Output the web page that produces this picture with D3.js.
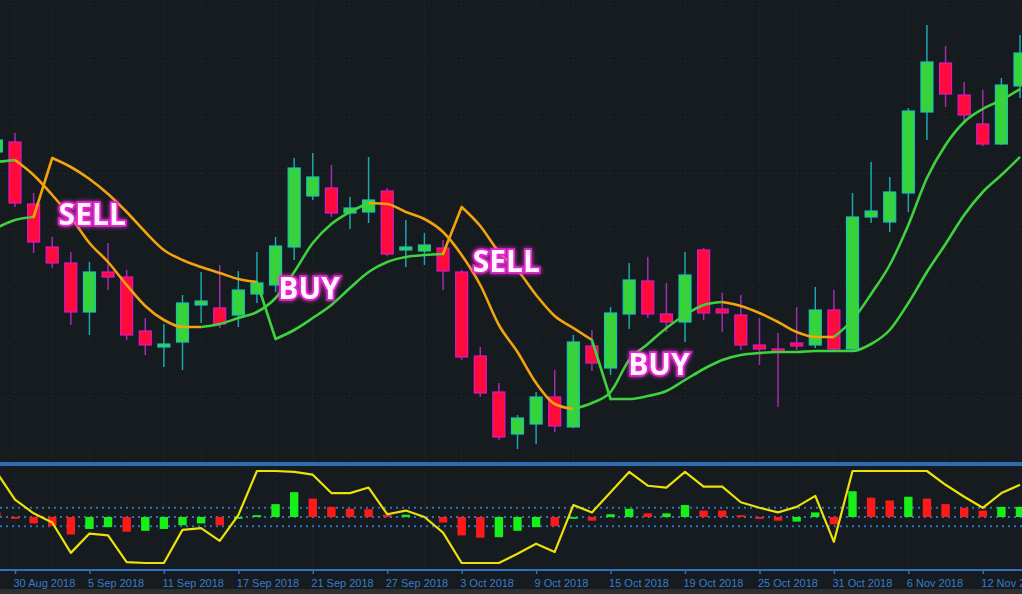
<!DOCTYPE html>
<html>
<head>
<meta charset="utf-8">
<script src="https://cdn.jsdelivr.net/npm/d3@7"></script>
<style>
  body { margin: 0; background: #151b1e; overflow: hidden; }
</style>
</head>
<body>
<div id="chart"></div>
<script>
// candle data (index 0 = 29 Aug 2018, one per trading day)
var open  = [308,318,256,213,197,148,188,183,129,113,118,155,152,145,166,175,213,264,272,247,248,269,210,209,212,188,104,68,26,36,63,33,114,92,146,179,146,138,210,151,145,115,111,117,115,150,111,243,238,267,348,397,365,336,316,374];
var high  = [324,327,267,223,208,198,217,190,142,136,165,188,195,189,208,223,302,307,295,263,303,272,240,227,220,190,113,77,45,68,90,125,130,153,197,203,177,208,212,167,165,142,127,153,173,170,267,298,283,352,435,414,378,370,382,425];
var low   = [304,253,207,192,135,125,170,120,105,93,90,137,132,133,157,168,200,260,243,231,237,204,193,195,170,100,63,20,11,16,28,32,89,85,131,142,128,118,140,128,110,95,53,110,112,110,108,237,228,248,320,353,338,314,315,362];
var close = [320,257,218,197,148,188,183,125,115,116,157,159,136,170,177,214,292,283,247,252,260,206,213,215,189,103,67,23,42,63,34,118,97,147,180,146,138,185,147,147,115,111,108,114,150,111,243,249,268,349,398,366,345,316,375,407];

// moving averages and their trend (1 = up / green, 0 = down / orange)
var maFast = [298,300,285,265,243,217,198,175,154,140,133,133,136,142,148,162,188,217,236,248,257,256,248,241,228,205,175,135,108,77,56,51,57,68,100,116,132,145,155,158,154,147,138,128,123,123,140,166,195,235,282,315,338,351,360,371];
var fastUp = [1,1,0,0,0,0,0,0,0,0,0,0,1,1,1,1,1,1,1,1,1,0,0,0,0,0,0,0,0,0,0,0,1,1,1,1,1,1,1,1,0,0,0,0,0,0,1,1,1,1,1,1,1,1,1,1];
var maSlow = [232,240,243,302,293,281,266,248,228,210,200,193,187,181,178,121,130,142,155,172,188,198,203,205,206,253,234,208,190,165,144,132,120,61,61,64,69,80,91,100,105,107,108,108,109,109,109,116,130,157,188,216,245,268,285,303];
var slowUp = [1,1,1,0,0,0,0,0,0,0,0,0,0,0,0,1,1,1,1,1,1,1,1,1,1,0,0,0,0,0,0,0,0,1,1,1,1,1,1,1,1,1,1,1,1,1,1,1,1,1,1,1,1,1,1,1];

// lower panel: oscillator (0-100) and histogram
var osc = [99,69,54,44,11,32,30,1,0,0,36,38,24,52,100,100,99,96,76,76,82,53,57,50,33,0,0,0,10,21,12,63,55,77,99,84,82,99,83,83,66,60,55,61,73,23,100,100,100,100,100,85,72,60,76,85];
var hist = [5,-2,-7,-10,-19,-13,-11,-16,-15,-13,-9,-7,-9,-2,2,14,27,20,11,9,8.5,2.5,2.5,0,-6,-20,-22.5,-22,-15,-11,-10,-2,-4,3,9,4,4,13,7,7,2,-2,-4,-5,5,-8,28,21,18,22,20,14,10,7,11,11];
var histUp = [0,0,0,0,0,1,1,0,1,1,1,1,0,1,1,1,1,0,0,0,0,0,1,0,0,0,0,1,1,1,0,1,0,1,1,0,1,1,0,0,0,0,0,1,1,0,1,0,0,1,0,0,0,0,1,1];

// signal labels
var signalText  = ["SELL", "BUY", "SELL", "BUY"];
var signalIdx   = [5.15, 16.8, 27.4, 35.6];
var signalLevel = [235, 161, 188, 85];

// x axis labels
var tickLabels = ["30 Aug 2018","5 Sep 2018","11 Sep 2018","17 Sep 2018","21 Sep 2018","27 Sep 2018","3 Oct 2018","9 Oct 2018","15 Oct 2018","19 Oct 2018","25 Oct 2018","31 Oct 2018","6 Nov 2018","12 Nov 2018"];
var tickIdx = [1,5,9,13,17,21,25,29,33,37,41,45,49,53];

var svgWidth = 1022;
var svgHeight = 594;
var mainBottom = 460;

var svg = d3.select("#chart")
  .append("svg")
  .attr("width", svgWidth)
  .attr("height", svgHeight);

var defs = svg.append("defs");
defs.append("clipPath").attr("id", "mainClip")
  .append("rect").attr("x", 0).attr("y", 0).attr("width", svgWidth).attr("height", mainBottom);

var glow = defs.append("filter").attr("id", "glow")
  .attr("x", "-20%").attr("y", "-30%").attr("width", "140%").attr("height", "160%");
glow.append("feGaussianBlur").attr("in", "SourceAlpha").attr("stdDeviation", 2).attr("result", "b");
glow.append("feFlood").attr("flood-color", "#ff30e0").attr("flood-opacity", 0.9);
glow.append("feComposite").attr("in2", "b").attr("operator", "in").attr("result", "g");
var merge = glow.append("feMerge");
merge.append("feMergeNode").attr("in", "g");
merge.append("feMergeNode").attr("in", "SourceGraphic");

svg.append("rect")
  .attr("width", svgWidth).attr("height", svgHeight)
  .attr("fill", "#151b1e");

// scales
var x = d3.scaleLinear().domain([1, 55]).range([15, 1020]);
var yPrice = d3.scaleLinear().domain([0, 460]).range([mainBottom, 0]);
var yOsc = d3.scaleLinear().domain([0, 100]).range([563, 471]);
var yHist = d3.scaleLinear().domain([-50, 50]).range([563, 471]);

// grid
var grid = svg.append("g");
d3.range(1, 56, 2).forEach(function(k) {
  grid.append("line")
    .attr("x1", x(k)).attr("x2", x(k))
    .attr("y1", 0).attr("y2", 568)
    .attr("stroke", "#262e32").attr("stroke-width", 1)
    .attr("stroke-dasharray", "1,3");
});
d3.range(4, mainBottom, 56.5).forEach(function(gy) {
  grid.append("line")
    .attr("x1", 0).attr("x2", svgWidth)
    .attr("y1", gy).attr("y2", gy)
    .attr("stroke", "#262e32").attr("stroke-width", 1)
    .attr("stroke-dasharray", "1,3");
});

var chartGroup = svg.append("g").attr("clip-path", "url(#mainClip)");

// candles
var idx = d3.range(open.length);
var candles = chartGroup.selectAll(".candle")
  .data(idx)
  .enter()
  .append("g");

candles.append("line")
  .attr("x1", function(i) { return x(i); })
  .attr("x2", function(i) { return x(i); })
  .attr("y1", function(i) { return yPrice(high[i]); })
  .attr("y2", function(i) { return yPrice(low[i]); })
  .attr("stroke", function(i) { return close[i] >= open[i] ? "#1aa7ae" : "#a62bb0"; })
  .attr("stroke-width", 1.5);

candles.append("rect")
  .attr("x", function(i) { return x(i) - 6; })
  .attr("width", 12)
  .attr("y", function(i) { return yPrice(Math.max(open[i], close[i])); })
  .attr("height", function(i) { return Math.max(2, Math.abs(yPrice(open[i]) - yPrice(close[i]))); })
  .attr("fill", function(i) { return close[i] >= open[i] ? "#36d43a" : "#ff0a3a"; })
  .attr("stroke", function(i) { return close[i] >= open[i] ? "#1cc0b8" : "#e018c4"; })
  .attr("stroke-width", 1.2);

// trend lines, split into coloured runs
// sharp = the line jumps across price when the trend flips
function drawTrend(values, up, sharp) {
  var line = d3.line()
    .x(function(i) { return x(i); })
    .y(function(i) { return yPrice(values[i]); })
    .curve(d3.curveMonotoneX);
  var straight = d3.line()
    .x(function(i) { return x(i); })
    .y(function(i) { return yPrice(values[i]); });
  var start = 1;
  for (var i = 2; i <= values.length; i++) {
    if (i === values.length || up[i] !== up[start]) {
      var color = up[start] ? "#3ed23e" : "#f2a30e";
      var from = start - 1;
      if (sharp && start > 1) {
        chartGroup.append("path")
          .datum([start - 1, start])
          .attr("d", straight)
          .attr("fill", "none")
          .attr("stroke", color)
          .attr("stroke-width", 2.6)
          .attr("stroke-linecap", "round");
        from = start;
      }
      chartGroup.append("path")
        .datum(d3.range(from, i))
        .attr("d", line)
        .attr("fill", "none")
        .attr("stroke", color)
        .attr("stroke-width", 2.6)
        .attr("stroke-linejoin", "round");
      start = i;
    }
  }
}
drawTrend(maSlow, slowUp, true);
drawTrend(maFast, fastUp, false);

// signal labels
signalText.forEach(function(t, i) {
  svg.append("text")
    .attr("x", x(signalIdx[i]))
    .attr("y", yPrice(signalLevel[i]))
    .attr("text-anchor", "middle")
    .attr("font-family", "'Open Sans', sans-serif")
    .attr("font-weight", 700)
    .attr("font-size", "30px")
    .attr("fill", "#fff4ff")
    .attr("stroke", "#e428d2")
    .attr("stroke-width", 3.5)
    .attr("paint-order", "stroke")
    .attr("filter", "url(#glow)")
    .text(t);
});

// separator between panels
svg.append("line")
  .attr("x1", 0).attr("x2", svgWidth)
  .attr("y1", 464).attr("y2", 464)
  .attr("stroke", "#2e6cb4").attr("stroke-width", 4);

// lower panel level lines
[40, 50, 60].forEach(function(lv) {
  svg.append("line")
    .attr("x1", 0).attr("x2", svgWidth)
    .attr("y1", yOsc(lv)).attr("y2", yOsc(lv))
    .attr("stroke", "#2a72c4").attr("stroke-width", 2)
    .attr("stroke-dasharray", "2,4");
});

// histogram
svg.selectAll(".hbar")
  .data(idx)
  .enter()
  .append("rect")
  .attr("x", function(i) { return x(i) - 4.2; })
  .attr("width", 8.4)
  .attr("y", function(i) { return yHist(Math.max(0, hist[i])); })
  .attr("height", function(i) { return Math.abs(yHist(hist[i]) - yHist(0)); })
  .attr("fill", function(i) { return histUp[i] ? "#18ee18" : "#ff1a1a"; });

// oscillator line
var oscLine = d3.line()
  .x(function(d, i) { return x(i); })
  .y(function(d) { return yOsc(d); });
svg.append("path")
  .datum(osc)
  .attr("d", oscLine)
  .attr("fill", "none")
  .attr("stroke", "#ece10a")
  .attr("stroke-width", 2.2)
  .attr("stroke-linejoin", "round");

// x axis
svg.append("line")
  .attr("x1", 0).attr("x2", svgWidth)
  .attr("y1", 570).attr("y2", 570)
  .attr("stroke", "#2f70c0").attr("stroke-width", 2);

var xAxis = d3.axisBottom(x)
  .tickValues(tickIdx)
  .tickFormat(function(d, i) { return tickLabels[i]; })
  .tickSize(4)
  .tickPadding(5);

var axisG = svg.append("g")
  .attr("transform", "translate(0,570)")
  .call(xAxis);
axisG.select(".domain").remove();
axisG.selectAll(".tick line").attr("stroke", "#2f70c0").attr("stroke-width", 1.5);
axisG.selectAll(".tick text")
  .attr("text-anchor", "start")
  .attr("dx", -2)
  .attr("fill", "#3a7cd0")
  .attr("font-family", "'Liberation Sans', Arial, sans-serif")
  .attr("font-size", "11px");

svg.append("rect")
  .attr("x", 0).attr("y", 589)
  .attr("width", svgWidth).attr("height", 5)
  .attr("fill", "#2e2f30");
</script>
</body>
</html>
